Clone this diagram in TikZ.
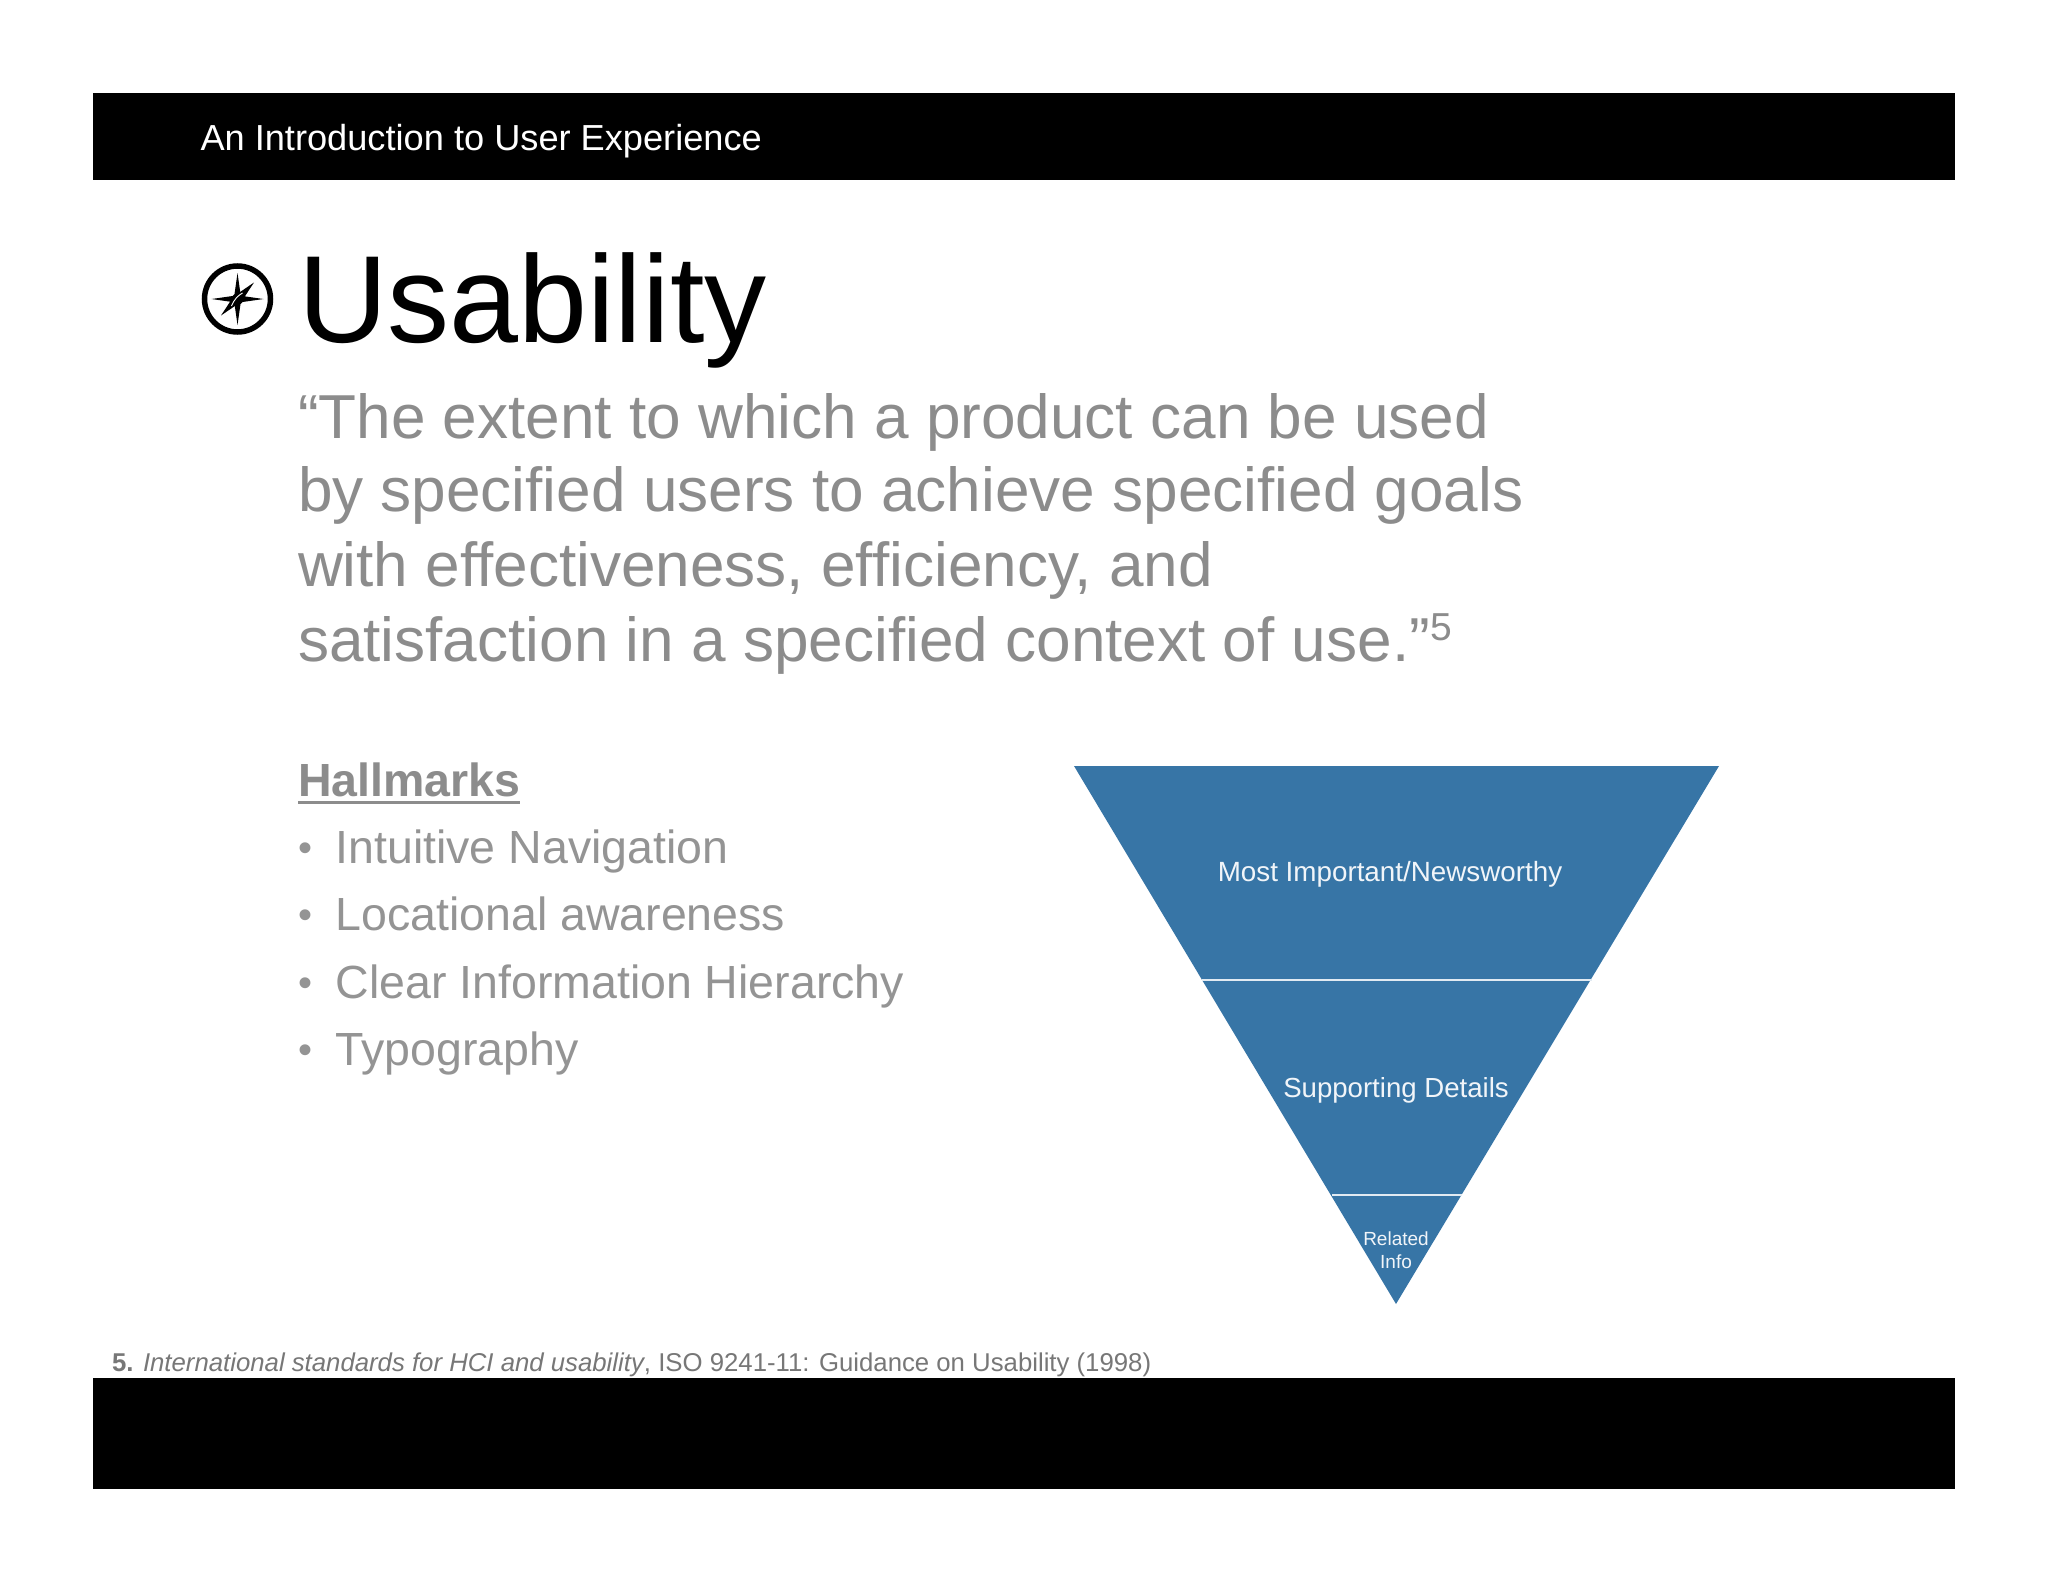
\documentclass[tikz,border=0pt]{standalone}
\usepackage{fontspec}
\setmainfont{Liberation Sans}
\definecolor{txtgray}{HTML}{8C8C8C}
\definecolor{bulgray}{HTML}{949494}
\definecolor{notegray}{HTML}{777777}
\definecolor{funnel}{HTML}{3775A6}
\newcommand{\fsz}[1]{\fontsize{#1}{#1}\selectfont}
\tikzset{
  bar/.style={fill=black,draw=none},
  lab/.style={anchor=base west,inner sep=0pt,outer sep=0pt},
  quoteline/.style={lab,text=txtgray,font=\fsz{62.1}},
  bul/.style={lab,text=bulgray,font=\fsz{46.5}},
  bulmark/.style={lab,text=bulgray,font=\fsz{40}},
  fun/.style={anchor=base,inner sep=0pt,text=white!93!funnel,align=center},
  divider/.style={draw=white!85!funnel,line width=1.6pt},
}
\begin{document}
\begin{tikzpicture}[x=1pt,y=-1pt]
\useasboundingbox (0,0) rectangle (2048,1582);
\fill[white] (0,0) rectangle (2048,1582);
% bars
\path[bar] (93,93) rectangle (1955,180);
\path[bar] (93,1378) rectangle (1955,1489);
\node[lab,text=white,font=\fsz{36.2}] (header) at (200.5,150) {An Introduction to User Experience};
% compass icon
\coordinate (cmp) at (237.5,299);
\draw[line width=5.5pt,black] (cmp) circle (33);
\fill[black,shift={(cmp)}] (0,-26) -- (3,-5) -- (5,-3) -- (26,0) -- (5,3) -- (3,5) -- (0,26) -- (-3,5) -- (-5,3) -- (-26,0) -- (-5,-3) -- (-3,-5) -- cycle;
\fill[black,shift={(cmp)}] (16.5,-16.5) -- (4,2.5) -- (-16.5,16.5) -- (-4,-2.5) -- cycle;
\draw[white,line width=0.9pt,shift={(cmp)}] (5,-6) .. controls (0,-3) and (-3,0) .. (-6,7);
% title
\node[lab,text=black,font=\fsz{124}] (title) at (298,342) {Usability};
% quote
\node[quoteline] (q1) at (298,438) {“The extent to which a product can be used};
\node[quoteline] (q2) at (298,511) {by specified users to achieve specified goals};
\node[quoteline] (q3) at (298,586) {with effectiveness, efficiency, and};
\node[quoteline] (q4) at (298,661) {satisfaction in a specified context of use.”\raisebox{21pt}{\fsz{39}5}};
% hallmarks
\node[lab,text=txtgray,font=\fsz{46.5}\bfseries] (hall) at (298,796) {Hallmarks};
\draw[txtgray,line width=3pt] (hall.base west)++(0,6) -- ++(222,0);
\node[bulmark] (b1) at (298,861) {•};\node[bul] (t1) at (335.5,863) {Intuitive Navigation};
\node[bulmark] (b2) at (298,928) {•};\node[bul] (t2) at (335.5,930) {Locational awareness};
\node[bulmark] (b3) at (298,996) {•};\node[bul] (t3) at (335.5,998) {Clear Information Hierarchy};
\node[bulmark] (b4) at (298,1063) {•};\node[bul] (t4) at (335.5,1065) {Typography};
% funnel
\coordinate (fa) at (1074,766);
\coordinate (fb) at (1719,766);
\coordinate (fc) at (1396,1304);
\fill[funnel] (fa) -- (fb) -- (fc) -- cycle;
\coordinate (d1l) at (1202,980);
\coordinate (d1r) at (1592,980);
\coordinate (d2l) at (1332,1195);
\coordinate (d2r) at (1462,1195);
\draw[divider] (d1l) -- (d1r);
\draw[divider] (d2l) -- (d2r);
\node[fun,font=\fsz{27.8}] (f1) at (1390,881) {Most Important/Newsworthy};
\node[fun,font=\fsz{27.6}] (f2) at (1396,1097) {Supporting Details};
\node[fun,font=\fsz{19}] (f3a) at (1396,1245) {Related};
\node[fun,font=\fsz{19}] (f3b) at (1396,1268) {Info};
% footnote
\node[lab,text=notegray,font=\fsz{25.75}] (note) at (112,1371) {\textbf{5.} \textit{International standards for HCI and usability}, ISO 9241-11: Guidance on Usability (1998)};
\end{tikzpicture}
\end{document}
